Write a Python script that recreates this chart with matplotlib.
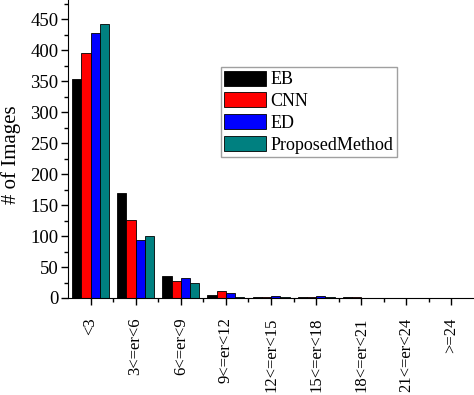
import numpy as np
import matplotlib.pyplot as plt
from matplotlib.ticker import MultipleLocator

categories = ["<3", "3<=er<6", "6<=er<9", "9<=er<12", "12<=er<15",
              "15<=er<18", "18<=er<21", "21<=er<24", ">=24"]
eb = [353, 170, 35, 5, 2, 1, 2, 0, 0]
cnn = [396, 126, 28, 12, 2, 2, 1, 0, 0]
ed = [427, 93, 33, 8, 4, 4, 0, 0, 0]
proposed = [443, 100, 24, 1, 1, 1, 0, 0, 0]

series = [("EB", eb, "#000000"), ("CNN", cnn, "#ff0000"),
          ("ED", ed, "#0000ff"), ("ProposedMethod", proposed, "#008080")]

plt.rcParams["font.family"] = ["Liberation Serif", "DejaVu Serif"]
plt.rcParams["font.size"] = 12

fig = plt.figure(figsize=(4.74, 3.95), dpi=100)
ax = fig.add_axes([0.1435, 0.2456, 0.8565, 0.7544])

x = np.arange(len(categories))
w = 0.205
for i, (name, vals, col) in enumerate(series):
    ax.bar(x + (i - 1.5) * w, vals, w, color=col, edgecolor="black",
           linewidth=0.6, label=name)

ax.set_xlim(-0.5, 8.5)
ax.set_ylim(0, 481)
ax.yaxis.set_major_locator(MultipleLocator(50))
ax.yaxis.set_minor_locator(MultipleLocator(25))
ax.set_xticks(x)
ax.set_xticks(x[:-1] + 0.5, minor=True)
ax.set_xticklabels(categories, rotation=90)
ax.tick_params(axis="both", which="major", length=5, width=1)
ax.tick_params(axis="x", which="major", labelsize=12, pad=9)
ax.tick_params(axis="y", which="major", labelsize=13.5, pad=2)
ax.tick_params(axis="both", which="minor", length=3, width=1)
ax.spines["top"].set_visible(False)
ax.spines["right"].set_visible(False)
ax.set_ylabel("# of Images", fontsize=15)
ax.yaxis.set_label_coords(-0.115, 0.48)

ax.legend(loc="upper left", bbox_to_anchor=(0.466, 0.830),
          bbox_transform=fig.transFigure, fancybox=False, edgecolor="#888888",
          fontsize=13, handlelength=2.3, handleheight=0.9, labelspacing=0.22,
          borderpad=0.2, handletextpad=0.25, borderaxespad=0)

fig.savefig("out.png", dpi=100)
